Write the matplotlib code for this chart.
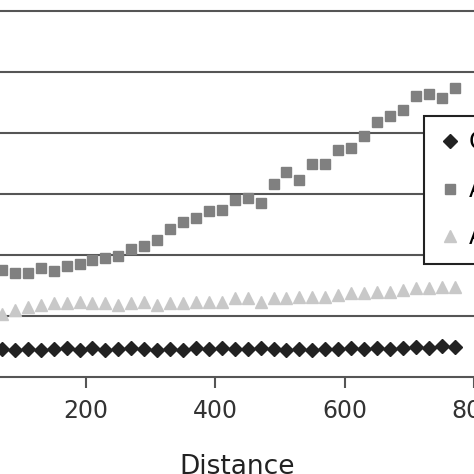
import matplotlib
matplotlib.use("Agg")
import matplotlib.pyplot as plt
import numpy as np

x = np.arange(70, 790, 20)
control = [0.46,0.45,0.46,0.45,0.46,0.47,0.45,0.47,0.45,0.46,0.47,0.46,0.45,0.46,0.45,0.47,0.46,0.47,0.46,0.46,
           0.47,0.46,0.45,0.46,0.45,0.46,0.46,0.47,0.46,0.47,0.46,0.48,0.49,0.48,0.50,0.49]
a1 = [1.75,1.70,1.70,1.79,1.74,1.82,1.85,1.92,1.95,1.98,2.10,2.15,2.25,2.43,2.54,2.61,2.72,2.74,2.90,2.93,
      2.85,3.16,3.36,3.23,3.49,3.49,3.72,3.75,3.95,4.18,4.28,4.38,4.61,4.64,4.57,4.74]
a2 = [1.04,1.10,1.15,1.18,1.21,1.21,1.23,1.21,1.21,1.18,1.21,1.23,1.18,1.21,1.21,1.23,1.23,1.23,1.30,1.30,
      1.23,1.30,1.30,1.31,1.31,1.31,1.34,1.38,1.38,1.39,1.39,1.43,1.46,1.46,1.48,1.48]
labels = ["Control", "A1", "A2"]

fig = plt.figure(figsize=(4.74, 4.74), dpi=100)
ax = fig.add_axes([0, 97/474, 1, 377/474])
ax.set_xlim(67, 783)
ax.set_ylim(0, 6.18)
for v in range(1, 7):
    ax.axhline(v, color="#555555", lw=1.5, zorder=0)
for s in ["left", "right", "top"]:
    ax.spines[s].set_visible(False)
ax.spines["bottom"].set_color("#555555")
ax.spines["bottom"].set_linewidth(1.5)
ax.set_yticks([])
ax.set_xticks([200, 400, 600, 800])
ax.tick_params(axis="x", direction="out", length=8, width=1.5, color="#555555",
               labelsize=17, labelcolor="#333333", pad=8)
ax.plot(x, control, "D", color="#222222", ms=7, label=labels[0], clip_on=False)
ax.plot(x, a1, "s", color="#808080", ms=7, label=labels[1])
ax.plot(x, a2, "^", color="#c8c8c8", ms=8, label=labels[2])
ax.set_xlabel("Distance", fontsize=19, labelpad=22, color="#222222")
leg = ax.legend(loc="upper left", bbox_to_anchor=(424/474, 1-116/377), borderaxespad=0,
                fancybox=False, edgecolor="#222222", fontsize=17, labelspacing=1.0,
                handletextpad=0.3, handlelength=1.0, borderpad=0.6, framealpha=1)
leg.get_frame().set_linewidth(1.5)
fig.savefig("out.png", dpi=100)
